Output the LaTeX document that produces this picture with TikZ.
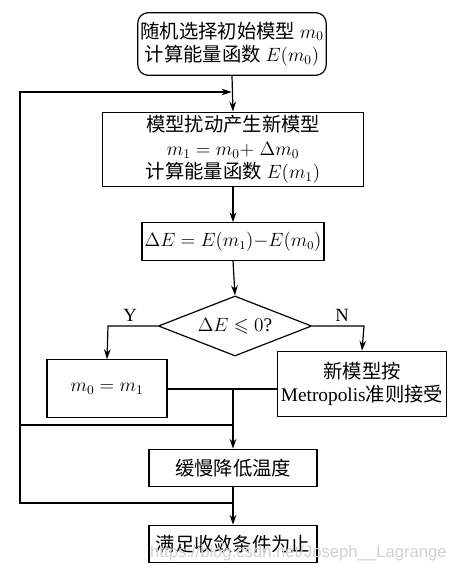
\documentclass[tikz,border=0pt]{standalone}
\usepackage{amssymb}
\usepackage{fontspec}
\setmainfont{Liberation Serif}
\newfontfamily\cjk{Noto Sans CJK SC}
\newfontfamily\wmfont{Liberation Sans}
\usetikzlibrary{shapes.geometric,arrows.meta}
\newcommand{\zh}[1]{{\cjk #1}}
\begin{document}
\begin{tikzpicture}[x=0.75pt,y=-0.75pt,
  every node/.style={font=\fontsize{14.5}{17.5}\selectfont},
  boxnode/.style={draw,line width=0.9pt,rectangle,align=center,inner sep=2pt},
  roundbox/.style={boxnode,rounded corners=8pt},
  decision/.style={draw,line width=0.9pt,diamond,aspect=2.6,inner sep=1pt},
  conn/.style={line width=0.9pt},
  arr/.style={conn,-{Stealth[length=7.5pt,width=5pt]}},
  lbl/.style={font=\fontsize{14}{17}\selectfont}
]
\useasboundingbox (0,0) rectangle (460,572);
\fill[white] (0,0) rectangle (460,572);

\node[roundbox,minimum width=141pt,minimum height=47pt] (start) at (232,44)
  {\zh{随机选择初始模型} $m_0$\\ \zh{计算能量函数} $E(m_0)$};
\node[boxnode,minimum width=196pt,minimum height=56pt] (pert) at (233,149.5)
  {\zh{模型扰动产生新模型}\\ $m_1 = m_0{+}\;\Delta m_0$\\ \zh{计算能量函数} $E(m_1)$};
\node[boxnode,minimum width=126pt,minimum height=28pt,font=\fontsize{13.5}{16}\selectfont] (de) at (233,241.5)
  {$\Delta E\;{=}\;E(m_1){-}E(m_0)$};
\node[decision,minimum width=115pt,minimum height=45pt] (dec) at (235,326)
  {$\Delta E \leqslant 0$?};
\node[boxnode,minimum width=90pt,minimum height=43pt] (acc) at (107,388.5)
  {$m_0 = m_1$};
\node[boxnode,minimum width=127pt,minimum height=49pt] (metro) at (362,384)
  {\zh{新模型按}\\ Metropolis\zh{准则接受}};
\node[boxnode,minimum width=126pt,minimum height=28pt] (cool) at (233,468)
  {\zh{缓慢降低温度}};
\node[boxnode,minimum width=126pt,minimum height=28pt] (stop) at (233,544)
  {\zh{满足收敛条件为止}};

\coordinate (loopin) at (233,92);
\coordinate (ly) at (108,326);
\coordinate (ln) at (364,326);
\coordinate (j1) at (233,389);
\coordinate (j2) at (233,425);
\coordinate (j3) at (233,503);
\coordinate (l2) at (20,425);
\coordinate (l3) at (20,503);
\coordinate (l1) at (20,92);

\draw[arr] (start.south) -- (pert.north);
\draw[arr] (pert.south) -- (de.north);
\draw[arr] (de.south) -- (dec.north);
\draw[arr] (dec.west) -- (ly) -- (acc.north);
\draw[arr] (dec.east) -- (ln) -- (metro.north);
\node[lbl] (ylab) at (130,315) {Y};
\node[lbl] (nlab) at (342,315) {N};
\draw[conn] (acc.east |- j1) -- (metro.west |- j1);
\draw[arr] (j1) -- (cool.north);
\draw[conn] (j2) -- (l2);
\draw[arr] (cool.south) -- (stop.north);
\draw[arr] (j3) -- (l3) -- (l1) -- ([xshift=-1]loopin);

\node[text=black!18,font=\wmfont\fontsize{12.5}{14}\selectfont,anchor=east,inner sep=0pt] (wm) at (447,553)
  {https://blog.csdn.net/Joseph\_\_Lagrange};
\end{tikzpicture}
\end{document}
